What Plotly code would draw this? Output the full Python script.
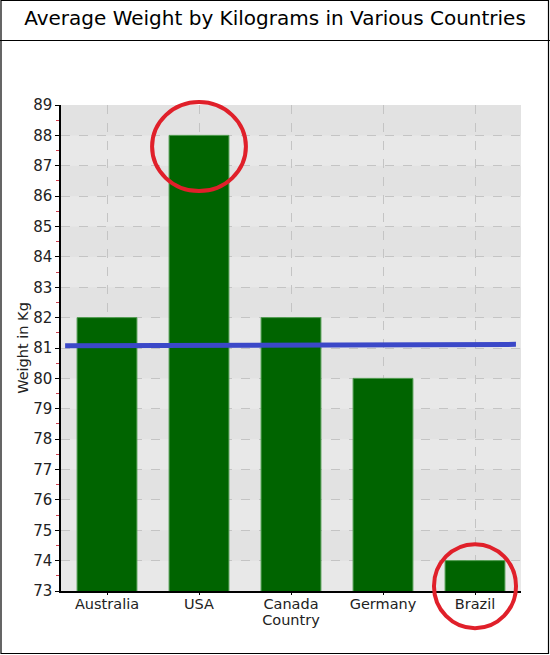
import plotly.graph_objects as go

countries = ["Australia", "USA", "Canada", "Germany", "Brazil"]
weights = [82, 88, 82, 80, 74]
avg_line_y = [81.07, 81.12]
y_min, y_max = 73, 89
circled = ["USA", "Brazil"]
circle_centers = [87.63, 73.16]

W, H = 550, 655
L, R, T, B = 61, 29, 105, 64
pw, ph = W - L - R, H - T - B

def px_x(p):
    return (p - L) / pw

def px_y(p):
    return (H - B - p) / ph

def val_y(v):
    return (v - y_min) / (y_max - y_min)

fig = go.Figure()
fig.add_trace(go.Bar(
    x=list(range(len(countries))), y=weights,
    marker=dict(color="#006400", line=dict(color="#4c9a4c", width=1)),
    width=0.65,
))

shapes = []
# alternating bands
for v in range(y_min, y_max):
    if (y_max - 1 - v) % 2 == 0:
        shapes.append(dict(type="rect", xref="paper", yref="y", x0=0, x1=1, y0=v, y1=v + 1,
                           fillcolor="#e2e2e2", line=dict(width=0), layer="below"))
# average line
shapes.append(dict(type="line", xref="x", yref="y", x0=-0.455, x1=4.445,
                   y0=avg_line_y[0], y1=avg_line_y[1],
                   line=dict(color="#3b48c8", width=5)))
# red circles
rx = [0.51, 0.446]
ry_px = [44.5, 42]
for c, cy, rxx, ryp in zip(circled, circle_centers, rx, ry_px):
    i = countries.index(c)
    yc = val_y(cy)
    ry = ryp / ph
    shapes.append(dict(type="circle", xref="x", yref="paper",
                       x0=i - rxx, x1=i + rxx, y0=yc - ry, y1=yc + ry,
                       line=dict(color="#e0202a", width=4)))
# title box line and outer border
shapes.append(dict(type="line", xref="paper", yref="paper",
                   x0=px_x(0), x1=px_x(W), y0=px_y(40.5), y1=px_y(40.5),
                   line=dict(color="black", width=1.2)))
shapes.append(dict(type="rect", xref="paper", yref="paper",
                   x0=px_x(1), x1=px_x(548.5), y0=px_y(653.5), y1=px_y(0.5),
                   line=dict(color="black", width=1.2)))

fig.update_layout(
    width=W, height=H,
    margin=dict(l=L, r=R, t=T, b=B),
    paper_bgcolor="white",
    plot_bgcolor="#e8e8e8",
    showlegend=False,
    font=dict(family="DejaVu Sans", size=13, color="#222"),
    title=dict(text="Average Weight by Kilograms in Various Countries",
               x=0.5, xref="container", xanchor="center",
               y=1 - 18 / H, yref="container", yanchor="middle",
               font=dict(family="DejaVu Sans", size=20, color="black")),
    shapes=shapes,
)
fig.update_xaxes(
    tickmode="array", tickvals=list(range(len(countries))), ticktext=countries,
    range=[-0.5, len(countries) - 0.5],
    showline=True, linecolor="black", linewidth=1.5,
    ticks="outside", ticklen=2, tickcolor="black",
    ticklabelstandoff=-3,
    showgrid=True, gridcolor="#c4c4c4", griddash="dash", gridwidth=1,
    tickfont=dict(size=14.5, color="#222"),
    title=dict(text="Country", font=dict(size=14.5, color="#222"), standoff=0),
)
fig.update_yaxes(
    range=[y_min, y_max], dtick=1, tick0=y_min,
    showline=True, linecolor="black", linewidth=1.5,
    ticks="outside", ticklen=4, tickcolor="black",
    showgrid=True, gridcolor="#c4c4c4", griddash="dash", gridwidth=1,
    zeroline=False,
    tickfont=dict(size=15, color="#222"),
    minor=dict(dtick=0.5, ticks="outside", ticklen=3, tickcolor="#d04050", showgrid=False),
    title=dict(text="Weight in Kg", font=dict(size=14.5, color="#222"), standoff=1),
)

fig.write_html("out.html", config={"displayModeBar": False},
               post_script="document.body.style.margin='0';document.body.style.padding='0';")
